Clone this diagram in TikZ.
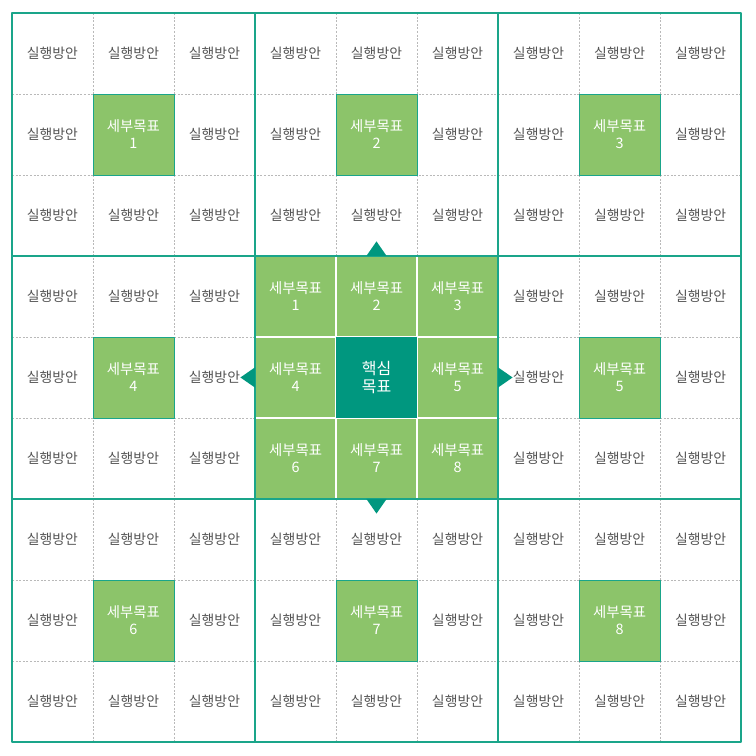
\documentclass[tikz,border=0pt]{standalone}
\usepackage{fontspec}
\setmainfont{Noto Sans CJK KR}
\definecolor{mgreen}{HTML}{8CC46A}
\definecolor{mteal}{HTML}{00977F}
\definecolor{mline}{HTML}{1AA58A}
\definecolor{mtext}{HTML}{555555}
\begin{document}
\begin{tikzpicture}[x=60.75pt,y=-60.75pt,line join=round,
    gridline/.style={gray!55,line width=0.4pt,dash pattern=on 1.5pt off 1.2pt},
    plan/.style={text=mtext,font=\fontsize{10.4}{12}\selectfont},
    goal/.style={text=white,align=center,font=\fontsize{10.8}{12.75}\selectfont}]
\useasboundingbox (-0.148,-0.160) rectangle (9.185,9.173);
   % dashed cell lines
   \foreach \k in {1,...,8} {
     \draw[gridline] (\k,0)--(\k,9);
     \draw[gridline] (0,\k)--(9,\k);
   }
   % outer blocks
   \foreach \bx/\by/\n in {0/0/1,1/0/2,2/0/3,0/1/4,2/1/5,0/2/6,1/2/7,2/2/8} {
     \fill[mgreen] (3*\bx+1,3*\by+1) rectangle (3*\bx+2,3*\by+2);
     \draw[mline,line width=0.6pt] (3*\bx+1,3*\by+1) rectangle (3*\bx+2,3*\by+2);
     \node[goal] (g\n) at (3*\bx+1.5,3*\by+1.5) {세부목표\\\n};
     \foreach \a in {0,1,2} \foreach \b in {0,1,2} {
       \ifnum\a\b=11 \else
         \node[plan] (p\n\a\b) at (3*\bx+\a+0.5,3*\by+\b+0.5) {실행방안};
       \fi
     }
   }
   % center block
   \fill[mgreen] (3,3) rectangle (6,6);
   \draw[white,line width=0.8pt] (4,3)--(4,6) (5,3)--(5,6) (3,4)--(6,4) (3,5)--(6,5);
   \fill[mteal] (4,4) rectangle (5,5);
   \node[goal,font=\fontsize{12}{13.5}\selectfont] (core) at (4.5,4.5) {핵심\\목표};
   \foreach \bx/\by/\n in {0/0/1,1/0/2,2/0/3,0/1/4,2/1/5,0/2/6,1/2/7,2/2/8}
     \node[goal] (s\n) at (3.5+\bx,3.5+\by) {세부목표\\\n};
   % block lines
   \draw[mline,line width=1.5pt] (3,0)--(3,9) (6,0)--(6,9) (0,3)--(9,3) (0,6)--(9,6);
   \draw[mline,line width=1.8pt] (0,0) rectangle (9,9);
   \foreach \r in {0,90,180,270}
     \fill[mteal,shift={(4.5,4.5)},rotate=\r] (1.5,-0.125)--(1.68,0)--(1.5,0.125)--cycle;
\end{tikzpicture}
\end{document}
